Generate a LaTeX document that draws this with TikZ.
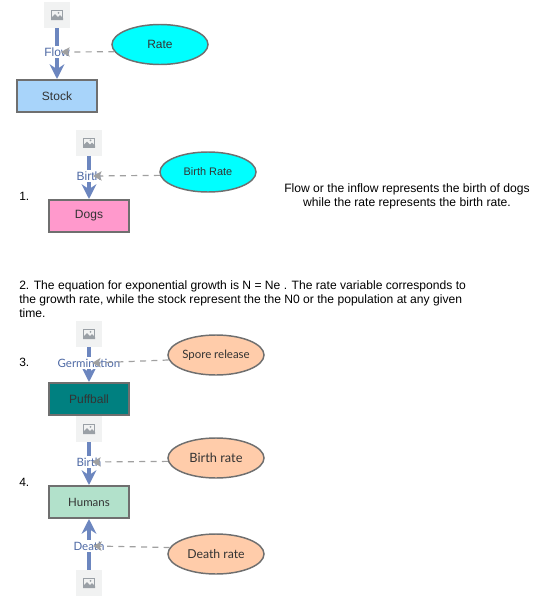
\documentclass[tikz,border=0pt]{standalone}
\usepackage{fontspec}
\setmainfont{Liberation Sans}
\newfontfamily\comicfont{Lato}
\usetikzlibrary{arrows.meta,shapes.geometric}
\definecolor{flowblue}{HTML}{6C86BF}
\definecolor{edgegray}{HTML}{6F6F6F}
\definecolor{dashgray}{HTML}{A0A0A0}
\definecolor{labelblue}{HTML}{4F6AA5}
\definecolor{inkgray}{HTML}{333333}
\definecolor{imgbg}{HTML}{F1F2F2}
\definecolor{imgfg}{HTML}{9AA0A6}
\definecolor{purecyan}{RGB}{0,255,255}
\definecolor{stockblue}{RGB}{168,212,250}
\definecolor{dogpink}{RGB}{255,153,204}
\definecolor{puffteal}{RGB}{0,128,128}
\definecolor{humangreen}{RGB}{178,225,203}
\definecolor{peach}{RGB}{255,204,170}
\tikzset{
  x=0.75pt,y=-0.75pt,
  imgbox/.style={minimum width=19.5pt,minimum height=19.5pt,inner sep=0pt,fill=imgbg},
  stockbox/.style={draw=edgegray,line width=1.5pt,minimum width=60pt,minimum height=24pt,inner sep=0pt,text=inkgray,font=\fontsize{9}{11}\selectfont},
  rateoval/.style={ellipse,draw=edgegray,line width=1.1pt,minimum width=72pt,minimum height=30pt,inner sep=0pt,text=inkgray,font=\fontsize{9}{11}\selectfont},
  flowline/.style={draw=flowblue,line width=2.6pt,-{Stealth[length=11pt,width=11pt,inset=3.6pt]}},
  flowlabel/.style={fill=white,inner xsep=0pt,inner ysep=1pt,text=labelblue,font=\fontsize{9}{11}\selectfont},
  ratelink/.style={draw=dashgray,line width=0.9pt,dash pattern=on 4.5pt off 4pt,-{Stealth[length=6.5pt,width=7pt,inset=1.5pt]}},
  plaintext/.style={inner sep=0pt,anchor=west,text=black,font=\fontsize{9}{11}\selectfont},
  comic/.style={font=\fontsize{8.6}{11}\selectfont\comicfont},
  icon/.pic={
    \fill[imgfg] (-6,-5) rectangle (6,5);
    \fill[imgbg] (-5,-4) rectangle (5,4);
    \fill[imgfg] (-6,5) -- (-6,3) -- (-2,-1) -- (1,2) -- (3,0) -- (6,3) -- (6,5) -- cycle;
    \fill[imgfg] (1.5,-2.2) circle (1);
  }
}
\begin{document}
\begin{tikzpicture}
\useasboundingbox (0,0) rectangle (552,600);

% Diagram 0
\node[imgbox] (i0) at (57,15) {}; \pic at (i0) {icon};
\node[stockbox,fill=stockblue] (s0) at (57,96) {Stock};
\draw[flowline] (i0) -- (s0);
\node[flowlabel] (f0) at (57,52) {Flow};
\node[rateoval,fill=purecyan] (r0) at (160,44.5) {Rate};
\coordinate (e0) at (61,52);
\draw[ratelink] (r0.189) -- (e0);

% Diagram 1
\node[imgbox] (i1) at (89,142.5) {}; \pic at (i1) {icon};
\node[stockbox,fill=dogpink] (s1) at (89,216) {Dogs};
\draw[flowline] (i1) -- (s1);
\node[flowlabel] (f1) at (89,176) {Birth};
\node[rateoval,fill=purecyan,font=\fontsize{8.2}{10}\selectfont] (r1) at (208,172) {Birth Rate};
\coordinate (e1) at (93,176);
\draw[ratelink] (r1.184) -- (e1);
\node[plaintext] (n1) at (19,196) {1.};
\node[inner sep=0pt,align=center,font=\fontsize{9.1}{10.5}\selectfont] (t1) at (407,196.7) {Flow or the inflow represents the birth of dogs\\while the rate represents the birth rate.};

% Text 2
\node[plaintext,align=left,anchor=north west,font=\fontsize{9.08}{10.5}\selectfont] (t2) at (19,280) {2. The equation for exponential growth is N = Ne . The rate variable corresponds to\\the growth rate, while the stock represent the the N0 or the population at any given\\time.};

% Diagram 3
\node[imgbox] (i3) at (89,334) {}; \pic at (i3) {icon};
\node[stockbox,fill=puffteal] (s3) at (89,399) {Puffball};
\draw[flowline] (i3) -- (s3);
\node[flowlabel,comic] (f3) at (89,363) {Germination};
\node[rateoval,fill=peach,comic] (r3) at (216,355) {Spore release};
\coordinate (e3) at (92,363);
\draw[ratelink] (r3.186) -- (e3);
\node[plaintext] (n3) at (19,362.5) {3.};

% Diagram 4
\node[imgbox] (i4) at (89,429) {}; \pic at (i4) {icon};
\node[stockbox,fill=humangreen,comic] (s4) at (89,502) {Humans};
\draw[flowline] (i4) -- (s4);
\node[flowlabel,comic] (f4) at (89,462) {Birth};
\node[rateoval,fill=peach,comic,font=\fontsize{9.6}{11}\selectfont\comicfont] (r4) at (216,458) {Birth rate};
\coordinate (e4) at (92,462);
\draw[ratelink] (r4.184) -- (e4);
\node[plaintext] (n4) at (19,482) {4.};

\node[imgbox] (i5) at (89,583) {}; \pic at (i5) {icon};
\draw[flowline] (i5) -- (s4);
\node[flowlabel,comic] (f5) at (89,546) {Death};
\node[rateoval,fill=peach,comic,font=\fontsize{9.2}{11}\selectfont\comicfont] (r5) at (216,554) {Death rate};
\coordinate (e5) at (93,546);
\draw[ratelink] (r5.172) -- (e5);
\end{tikzpicture}
\end{document}
